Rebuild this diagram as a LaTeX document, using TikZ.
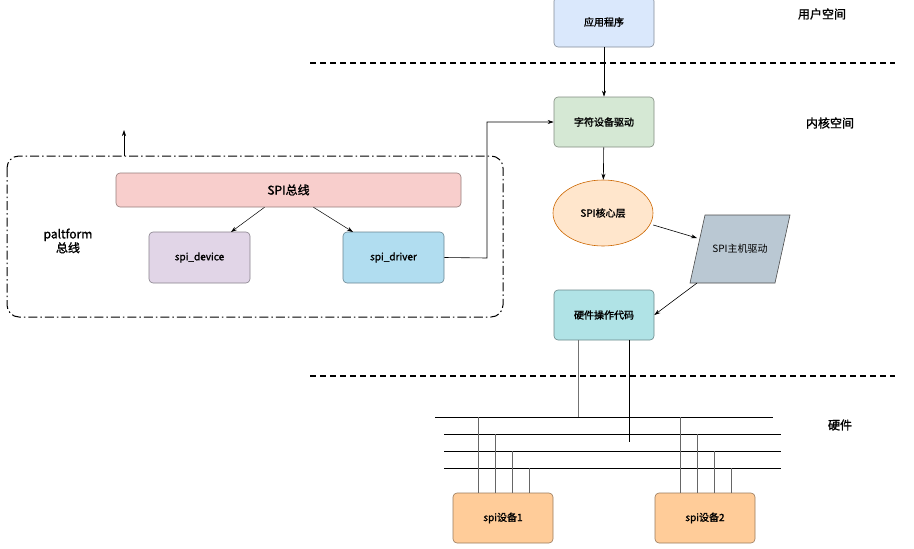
\documentclass[tikz,border=0pt]{standalone}
\usepackage{fontspec}
\setmainfont{Liberation Sans}
\newfontfamily\cjk{Noto Sans CJK SC}[AutoFakeBold=1.5]
\usetikzlibrary{shapes.geometric,arrows.meta,calc}
\begin{document}
\begin{tikzpicture}[x=1pt,y=-1pt,font=\cjk\bfseries\fontsize{10}{12}\selectfont,
 box/.style={draw=#1!60!black,rounded corners=4pt,minimum width=100pt,minimum height=50pt,inner sep=0pt,line width=0.6pt},
 arr/.style={-{Stealth[length=6pt,width=4pt]},line width=0.6pt},
 dl/.style={dashed,dash pattern=on 6pt off 4pt,line width=1.5pt},
 bus/.style={line width=0.7pt}]
\useasboundingbox (0,0) rectangle (914,549);
\definecolor{cA}{HTML}{DAE8FC}\definecolor{cB}{HTML}{D5E8D4}\definecolor{cC}{HTML}{FFE6CC}
\definecolor{cD}{HTML}{BAC8D3}\definecolor{cE}{HTML}{B0E3E6}\definecolor{cF}{HTML}{B1DDF0}
\definecolor{cG}{HTML}{F8CECC}\definecolor{cH}{HTML}{E1D5E7}\definecolor{cI}{HTML}{FFCC99}
\node[box=cA,fill=cA] (app) at (604,22) {应用程序};
\node[box=cB,fill=cB] (chr) at (604,122) {字符设备驱动};
\node[ellipse,draw=orange!80!black,fill=cC,minimum width=100pt,minimum height=66pt,line width=0.6pt] (core) at (603,213) {SPI核心层};
\draw[draw=black!70,fill=cD,line width=0.6pt] (705,215) -- (790,215) -- (775,283) -- (690,283) -- cycle;
\node[font=\cjk\fontsize{10}{12}\selectfont] (host) at (740,249) {SPI主机驱动};
\node[box=cE,fill=cE] (hw) at (604,315) {硬件操作代码};
\node[box=cF,fill=cF,minimum width=101pt,minimum height=51pt] (drv) at (393.5,257.5) {spi\_driver};
\node[box=cH,fill=cH,minimum width=101pt,minimum height=51pt] (dev) at (199.5,257.5) {spi\_device};
\node[box=cG,fill=cG,minimum width=345pt,minimum height=34pt,font=\cjk\bfseries\fontsize{12}{14}\selectfont] (sbus) at (288.5,190) {SPI总线};
\node[align=center,font=\cjk\bfseries\fontsize{12}{14}\selectfont] (plat) at (68,241) {paltform\\总线};
\node[box=cI,fill=cI] (d1) at (503,518) {spi设备1};
\node[box=cI,fill=cI] (d2) at (705,518) {spi设备2};
\node[font=\cjk\bfseries\fontsize{12}{14}\selectfont] (l1) at (822,14) {用户空间};
\node[font=\cjk\bfseries\fontsize{12}{14}\selectfont] (l2) at (830,123) {内核空间};
\node[font=\cjk\bfseries\fontsize{12}{14}\selectfont] (l3) at (840,425) {硬件};
\draw[dl] (310,63) -- (895,63);
\draw[dl] (310,376) -- (895,376);
\draw[dash pattern=on 9pt off 3pt on 1.5pt off 3pt,line width=1pt,rounded corners=12pt] (7,156) rectangle (503,317);
\coordinate (up) at (124,130);
\draw[arr] (124,156) -- (up);
\draw[arr] (app) -- (chr);
\draw[arr] (chr) -- (core);
\draw[arr] ($(core.east)+(0,12)$) -- (697,238);
\draw[arr] (697,283) -- (hw.east);
\draw[arr] (drv.east) -- (487,258) -- (487,122) -- (chr.west);
\draw[arr,line width=0.5pt] ($(sbus.south)+(-24,0)$) -- (231,232);
\draw[arr,line width=0.5pt] ($(sbus.south)+(25,0)$) -- (353,232);
\draw[bus] (435,417) -- (773,417);
\foreach \y in {434,451,468} \draw[bus] (444,\y) -- (781,\y);
\draw[bus,black!55,line width=1pt] (578,340) -- (578,417);
\draw[bus] (629,340) -- (629,442);
\foreach \x/\y in {0/417,17/434,34/451,51/468}{
 \draw[bus,black!60] (478+\x,\y) -- (478+\x,493);
 \draw[bus,black!60] (680+\x,\y) -- (680+\x,493);}
\end{tikzpicture}
\end{document}
